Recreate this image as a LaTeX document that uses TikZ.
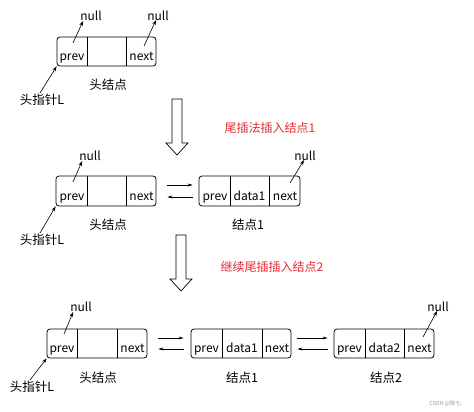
\documentclass[tikz,border=0pt]{standalone}
\usepackage{fontspec}
\setmainfont{Noto Sans CJK SC}
\usetikzlibrary{arrows.meta}
\definecolor{redtxt}{RGB}{232,40,50}
\tikzset{
  box/.style={draw, rounded corners=3pt, line width=0.8pt, inner sep=0pt},
  cell/.style={font=\fontsize{12}{13}\selectfont, inner sep=0pt, anchor=base},
  lbl/.style={font=\fontsize{12.5}{14}\selectfont, inner sep=1pt},
  nulltxt/.style={font=\fontsize{12}{14}\selectfont, inner sep=1pt},
  redlbl/.style={font=\fontsize{12}{14}\selectfont, text=redtxt},
  ptr/.style={-{Stealth[length=5pt,width=3.5pt]}, line width=0.6pt},
  link/.style={-{Stealth[length=5pt,width=3pt]}, line width=0.6pt},
  hollow/.style={draw, line width=0.7pt, fill=white},
  divider/.style={line width=0.8pt}
}
\begin{document}
\begin{tikzpicture}[x=1pt,y=-1pt]
\useasboundingbox (0,0) rectangle (474,412);

% ---------- block 1 ----------
\node[box, minimum width=99pt, minimum height=29pt] (h1) at (106.5,51.5) {};
\draw[divider] (87,37) -- (87,66) (126,37) -- (126,66);
\node[cell] (h1p) at (72,61) {prev};
\node[cell] (h1n) at (141.5,61) {next};
\node[nulltxt] (n1a) at (91,16) {null};
\node[nulltxt] (n1b) at (158,16) {null};
\coordinate (c1a) at (73,43);
\coordinate (c1b) at (144,46);
\draw[ptr] (c1a) -- ([xshift=4pt,yshift=1pt]n1a.south west);
\draw[ptr] (c1b) -- ([xshift=-2pt,yshift=2pt]n1b.south);
\node[lbl] (t1) at (108,85) {头结点};
\node[lbl] (L1) at (42,100) {头指针L};
\draw[ptr] ([xshift=-2pt]L1.north) -- (h1.south west);

% hollow arrow 1
\draw[hollow] (172,99) -- (182,99) -- (182,143) -- (188,143) -- (177,155) -- (166,143) -- (172,143) -- cycle;
\node[redlbl] (r1) at (270,128) {尾插法插入结点1};

% ---------- block 2 ----------
\node[box, minimum width=100pt, minimum height=30pt] (h2) at (106,191) {};
\draw[divider] (87,176) -- (87,206) (126,176) -- (126,206);
\node[cell] (h2p) at (72,200) {prev};
\node[cell] (h2n) at (141.5,200) {next};
\node[nulltxt] (n2a) at (90,156) {null};
\coordinate (c2a) at (73,182);
\draw[ptr] (c2a) -- ([xshift=4pt,yshift=1pt]n2a.south west);

\node[box, minimum width=101pt, minimum height=30pt] (a2) at (249.5,191) {};
\draw[divider] (230,176) -- (230,206) (269,176) -- (269,206);
\node[cell] (a2p) at (215,200) {prev};
\node[cell] (a2d) at (249.5,200) {data1};
\node[cell] (a2n) at (285,200) {next};
\node[nulltxt] (n2b) at (305,156) {null};
\coordinate (c2b) at (290,183);
\draw[ptr] (c2b) -- ([xshift=-1pt,yshift=2pt]n2b.south);

\draw[link] ([xshift=11pt,yshift=6pt]h2.east) -- ([xshift=-6pt,yshift=6pt]a2.west);
\draw[link] ([xshift=-6pt,yshift=-6pt]a2.west) -- ([xshift=11pt,yshift=-6pt]h2.east);

\node[lbl] (t2) at (108,225) {头结点};
\node[lbl] (t2b) at (248,225) {结点1};
\node[lbl] (L2) at (42,240) {头指针L};
\draw[ptr] ([xshift=-2pt]L2.north) -- (h2.south west);

% hollow arrow 2
\draw[hollow] (176,235) -- (186,235) -- (186,279) -- (192,279) -- (181,291) -- (170,279) -- (176,279) -- cycle;
\node[redlbl] (r2) at (272,267) {继续尾插插入结点2};

% ---------- block 3 ----------
\node[box, minimum width=100pt, minimum height=29pt] (h3) at (97,343.5) {};
\draw[divider] (77,329) -- (77,358) (117,329) -- (117,358);
\node[cell] (h3p) at (62,352) {prev};
\node[cell] (h3n) at (132.5,352) {next};
\node[nulltxt] (n3a) at (81,307) {null};
\coordinate (c3a) at (64,334);
\draw[ptr] (c3a) -- ([xshift=4pt,yshift=1pt]n3a.south west);

\node[box, minimum width=100pt, minimum height=29pt] (b1) at (241,343.5) {};
\draw[divider] (222,329) -- (222,358) (262,329) -- (262,358);
\node[cell] (b1p) at (206.5,352) {prev};
\node[cell] (b1d) at (242,352) {data1};
\node[cell] (b1n) at (277,352) {next};

\node[box, minimum width=100pt, minimum height=29pt] (b2) at (384,343.5) {};
\draw[divider] (365,329) -- (365,358) (404,329) -- (404,358);
\node[cell] (b2p) at (349.5,352) {prev};
\node[cell] (b2d) at (384.5,352) {data2};
\node[cell] (b2n) at (419.5,352) {next};
\node[nulltxt] (n3b) at (438,307) {null};
\coordinate (c3b) at (423,337);
\draw[ptr] (c3b) -- ([xshift=-1pt,yshift=2pt]n3b.south);

\draw[link] ([xshift=11pt,yshift=5.5pt]h3.east) -- ([xshift=-7pt,yshift=5.5pt]b1.west);
\draw[link] ([xshift=-7pt,yshift=-5.5pt]b1.west) -- ([xshift=11pt,yshift=-5.5pt]h3.east);
\draw[link] ([xshift=6pt,yshift=5.5pt]b1.east) -- ([xshift=-6pt,yshift=5.5pt]b2.west);
\draw[link] ([xshift=-6pt,yshift=-5.5pt]b2.west) -- ([xshift=6pt,yshift=-5.5pt]b1.east);

\node[lbl] (t3) at (98,378) {头结点};
\node[lbl] (t3b) at (242,378) {结点1};
\node[lbl] (t3c) at (386,378) {结点2};
\node[lbl] (L3) at (32,387) {头指针L};
\draw[ptr] ([xshift=-2pt]L3.north) -- (h3.south west);

\node[font=\fontsize{5.5}{6}\selectfont, text=black!40] (wm) at (446,404) {CSDN @陈七.};
\end{tikzpicture}
\end{document}
